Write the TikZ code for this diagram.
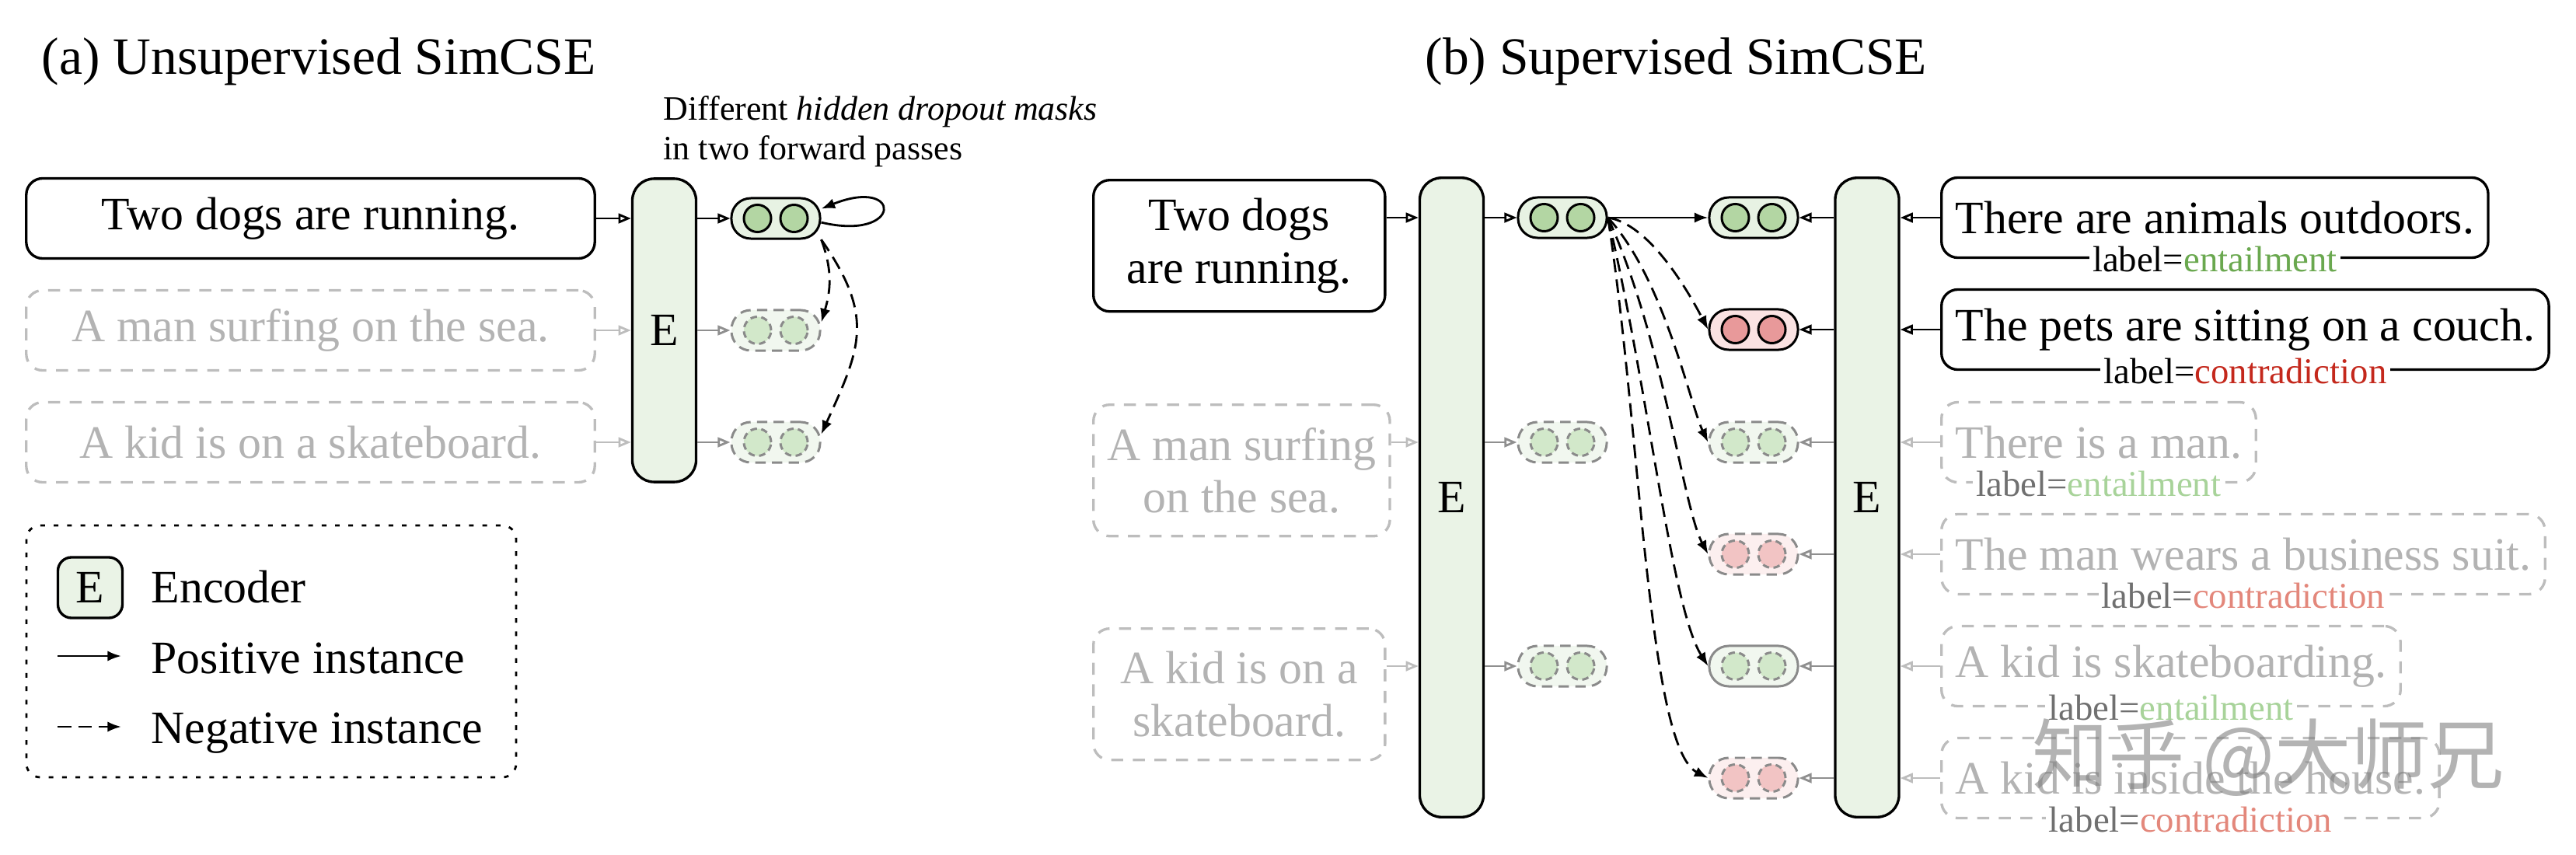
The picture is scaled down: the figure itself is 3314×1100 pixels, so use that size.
\documentclass[tikz,border=0pt]{standalone}
\usepackage{fontspec}
\setmainfont{Liberation Serif}
\newfontfamily\cjkfont{Noto Sans CJK SC}
\usepackage{tikz}
\usetikzlibrary{arrows.meta}
\usepackage{xcolor}
\definecolor{encfill}{HTML}{EAF3E6}
\definecolor{vecfill}{HTML}{E7F2E3}
\definecolor{dotgreen}{HTML}{B3D6A3}
\definecolor{vecred}{HTML}{FAE2E2}
\definecolor{dotred}{HTML}{E8999A}
\definecolor{offfill}{HTML}{F1F7EF}
\definecolor{offdot}{HTML}{D2E8CA}
\definecolor{offred}{HTML}{FCEFEF}
\definecolor{offdotred}{HTML}{F2C4C4}
\definecolor{offline}{HTML}{8A8A8A}
\definecolor{offbox}{HTML}{BDBDBD}
\definecolor{offtext}{HTML}{B3B3B3}
\definecolor{offarrow}{HTML}{8F8F8F}
\definecolor{entail}{HTML}{6AA84F}
\definecolor{contra}{HTML}{C4281C}
\definecolor{offentail}{HTML}{A8D39A}
\definecolor{offcontra}{HTML}{E3877B}
\definecolor{offlabel}{HTML}{707070}
\newcommand{\fsent}{\fontsize{17pt}{19.2pt}\selectfont}
\newcommand{\ftitle}{\fontsize{19.2pt}{22pt}\selectfont}
\newcommand{\fnote}{\fontsize{12.5pt}{14.5pt}\selectfont}
\newcommand{\flab}{\fontsize{13.3pt}{15pt}\selectfont}

\begin{document}
\begin{tikzpicture}[x=0.01cm,y=0.01cm,
  sent/.style={draw, line width=0.95pt, rounded corners=6pt, inner xsep=0.18cm, minimum height=1.03cm, font=\fsent},
  sentoff/.style={sent, draw=offbox, dash pattern=on 4.4pt off 3.5pt, text=offtext},
  enc/.style={draw, fill=encfill, line width=0.95pt, rounded corners=8pt, minimum width=0.82cm, font=\fsent},
  vec/.style 2 args={draw, line width=0.85pt, rounded corners=0.25cm, minimum width=1.14cm, minimum height=0.52cm, inner sep=0pt,
    path picture={\foreach \s in {-1,1}
      \draw[#2, fill=#1] ([xshift=\s*0.235cm]path picture bounding box.center) circle (0.175cm);}},
  vecon/.style={vec={dotgreen}{solid,black}, fill=vecfill},
  vecneg/.style={vec={dotred}{solid,black}, fill=vecred},
  vecoff/.style={vec={offdot}{offline,dash pattern=on 2.4pt off 1.6pt}, fill=offfill, draw=offline, dash pattern=on 3.8pt off 2.3pt},
  vecoffneg/.style={vec={offdotred}{offline,dash pattern=on 2.4pt off 1.6pt}, fill=offred, draw=offline, dash pattern=on 3.8pt off 2.3pt},
  vecmid/.style={vec={offdot}{offline,dash pattern=on 2.4pt off 1.6pt}, fill=offfill, draw=offline},
  lab/.style={fill=white, inner sep=1.2pt, font=\flab},
  tri/.style={line width=0.8pt, -{Triangle[open, length=4.6pt, width=3.6pt]}},
  posarr/.style={line width=0.8pt, -{Latex[length=5pt, width=3.8pt]}},
  negarr/.style={posarr, dash pattern=on 5pt off 2.6pt}]
\useasboundingbox (0,0) rectangle (3314,-1100);

\node[anchor=base west, font=\ftitle, inner sep=0pt] (ta) at (53,-95) {(a) Unsupervised SimCSE};
\node[anchor=base west, font=\ftitle, inner sep=0pt] (tb) at (1833,-95) {(b) Supervised SimCSE};
\node[anchor=base west, font=\fnote, align=left, inner sep=0pt] (note) at (853,-205) {Different \textit{hidden dropout masks}\\in two forward passes};

\node[sent, minimum width=7.31cm] (a1) at (399.5,-281) {Two dogs are running.};
\node[sentoff, minimum width=7.31cm] (a2) at (399.5,-425) {A man surfing on the sea.};
\node[sentoff, minimum width=7.31cm] (a3) at (399.5,-569) {A kid is on a skateboard.};
\node[enc, minimum height=3.9cm] (ea) at (854.5,-425) {E};
\node[vecon] (va1) at (998,-281) {};
\node[vecoff] (va2) at (998,-425) {};
\node[vecoff] (va3) at (998,-569) {};

\draw[tri] (a1.east) -- (a1.east -| ea.west);
\draw[tri, draw=offbox] (a2.east) -- (a2.east -| ea.west);
\draw[tri, draw=offbox] (a3.east) -- (a3.east -| ea.west);
\draw[tri] (va1.west -| ea.east) -- (va1.west);
\draw[tri, draw=offarrow] (va2.west -| ea.east) -- (va2.west);
\draw[tri, draw=offarrow] (va3.west -| ea.east) -- (va3.west);
\draw[posarr] (va1.-5) .. controls +(105,-25) and +(105,42) .. (va1.12);
\draw[negarr] (va1.-25) .. controls +(15,-40) and +(12,40) .. (va2.10);
\draw[negarr] (va1.-25) .. controls +(70,-100) and +(50,110) .. (va3.10);

\draw[line width=0.8pt, dash pattern=on 1.7pt off 3.2pt, rounded corners=5pt] (34,-676) rectangle (664,-1000);
\node[enc, minimum width=0.83cm, minimum height=0.78cm, rounded corners=5pt] (le) at (116,-756) {E};
\node[anchor=base west, font=\fsent, inner sep=0pt] (lenc) at (194,-775) {Encoder};
\coordinate (lp0) at (74,-844);
\coordinate (lp1) at (156,-844);
\draw[posarr] (lp0) -- (lp1);
\node[anchor=base west, font=\fsent, inner sep=0pt] (lpos) at (194,-866) {Positive instance};
\coordinate (ln0) at (74,-935);
\coordinate (ln1) at (156,-935);
\draw[negarr] (ln0) -- (ln1);
\node[anchor=base west, font=\fsent, inner sep=0pt] (lneg) at (194,-956) {Negative instance};

\node[sent, anchor=north west, minimum width=3.75cm, minimum height=1.69cm, align=center] (l1) at (1405,-230) {Two dogs\\are running.};
\node[sentoff, anchor=north west, minimum width=3.75cm, minimum height=1.69cm, align=center] (l2) at (1405,-519) {A man surfing\\on the sea.};
\node[sentoff, anchor=north west, minimum width=3.75cm, minimum height=1.69cm, align=center] (l3) at (1405,-807) {A kid is on a\\skateboard.};
\node[enc, minimum height=8.22cm] (el) at (1867.5,-640) {E};
\node[enc, minimum height=8.22cm] (er) at (2402,-640) {E};
\node[vecon] (vA) at (2010,-280) {};
\node[vecoff] (vL2) at (2010,-569) {};
\node[vecoff] (vL3) at (2010,-857) {};
\node[vecon] (vB) at (2256,-280) {};
\node[vecneg] (vC) at (2256,-424) {};
\node[vecoff] (vD) at (2256,-569) {};
\node[vecoffneg] (vE) at (2256,-713) {};
\node[vecmid] (vF) at (2256,-857) {};
\node[vecoffneg] (vG) at (2256,-1001) {};

\node[sent, anchor=west] (r1) at (2496,-280) {There are animals outdoors.};
\node[sent, anchor=west] (r2) at (2496,-424) {The pets are sitting on a couch.};
\node[sentoff, anchor=west] (r3) at (2496,-569) {There is a man.};
\node[sentoff, anchor=west] (r4) at (2496,-713) {The man wears a business suit.};
\node[sentoff, anchor=west] (r5) at (2496,-857) {A kid is skateboarding.};
\node[sentoff, anchor=west] (r6) at (2496,-1001) {A kid is inside the house.};
\foreach \b/\c/\t in {r1/entail/entailment, r2/contra/contradiction}
  \node[lab] (\b-lab) at (\b.south) {label=\textcolor{\c}{\t}};
\foreach \b/\c/\t in {r3/offentail/entailment, r4/offcontra/contradiction, r5/offentail/entailment, r6/offcontra/contradiction}
  \node[lab, text=offlabel] (\b-lab) at (\b.south) {label=\textcolor{\c}{\t}};

\draw[tri] (l1.east |- vA.west) -- (el.west |- vA.west);
\draw[tri, draw=offbox] (l2.east |- vL2.west) -- (el.west |- vL2.west);
\draw[tri, draw=offbox] (l3.east |- vL3.west) -- (el.west |- vL3.west);
\draw[tri] (el.east |- vA.west) -- (vA.west);
\draw[tri, draw=offarrow] (el.east |- vL2.west) -- (vL2.west);
\draw[tri, draw=offarrow] (el.east |- vL3.west) -- (vL3.west);

\draw[tri] (r1.west) -- (r1.west -| er.east);
\draw[tri] (r2.west) -- (r2.west -| er.east);
\foreach \r in {r3,r4,r5,r6}
  \draw[tri, draw=offbox] (\r.west) -- (\r.west -| er.east);
\draw[tri] (er.west |- vB.east) -- (vB.east);
\draw[tri] (er.west |- vC.east) -- (vC.east);
\foreach \v in {vD,vE,vF,vG}
  \draw[tri, draw=offarrow] (er.west |- \v.east) -- (\v.east);

\draw[posarr] (vA.east) -- (vB.west);
\draw[negarr] (vA.east) .. controls +(52,-8) and +(-28,54) .. (vC.west);
\draw[negarr] (vA.east) .. controls +(72,-78) and +(-23,48) .. (vD.west);
\draw[negarr] (vA.east) .. controls +(72,-158) and +(-33,62) .. (vE.west);
\draw[negarr] (vA.east) .. controls +(52,-218) and +(-48,76) .. (vF.west);
\draw[negarr] (vA.east) .. controls +(42,-268) and +(-78,40) .. (vG.west);

\node[font=\cjkfont\fontsize{28pt}{30pt}\selectfont, text=gray, opacity=0.6] (mark) at (2918,-975) {知乎 @大师兄};
\end{tikzpicture}
\end{document}
